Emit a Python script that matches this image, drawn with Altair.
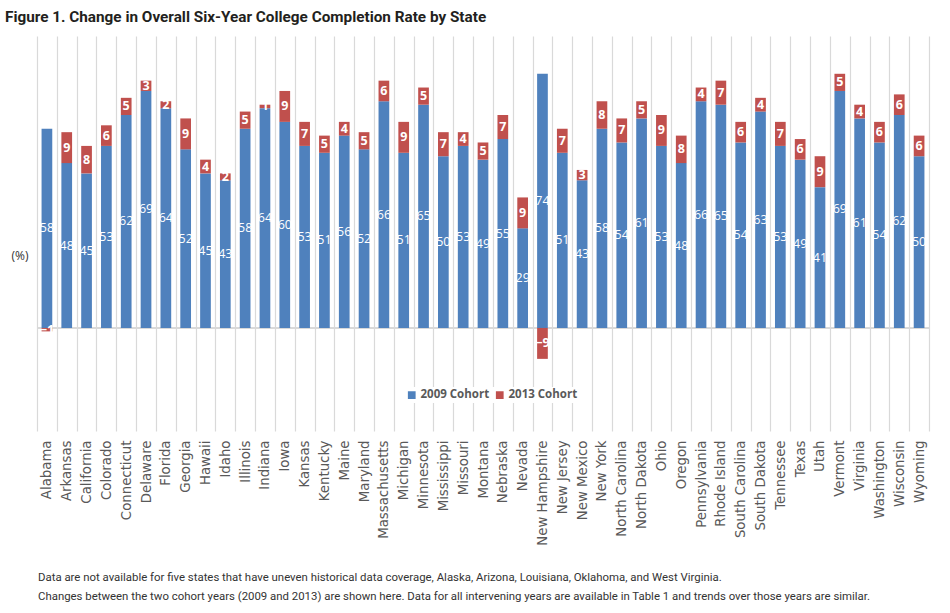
import altair as alt
import pandas as pd

states = ["Alabama", "Arkansas", "California", "Colorado", "Connecticut", "Delaware", "Florida",
          "Georgia", "Hawaii", "Idaho", "Illinois", "Indiana", "Iowa", "Kansas", "Kentucky", "Maine",
          "Maryland", "Massachusetts", "Michigan", "Minnesota", "Mississippi", "Missouri", "Montana",
          "Nebraska", "Nevada", "New Hampshire", "New Jersey", "New Mexico", "New York",
          "North Carolina", "North Dakota", "Ohio", "Oregon", "Pennsylvania", "Rhode Island",
          "South Carolina", "South Dakota", "Tennessee", "Texas", "Utah", "Vermont", "Virginia",
          "Washington", "Wisconsin", "Wyoming"]
cohort_2009 = [58, 48, 45, 53, 62, 69, 64, 52, 45, 43, 58, 64, 60, 53, 51, 56, 52, 66, 51, 65, 50, 53,
               49, 55, 29, 74, 51, 43, 58, 54, 61, 53, 48, 66, 65, 54, 63, 53, 49, 41, 69, 61, 54, 62, 50]
change_2013 = [-1, 9, 8, 6, 5, 3, 2, 9, 4, 2, 5, 1, 9, 7, 5, 4, 5, 6, 9, 5, 7, 4, 5, 7, 9, -9, 7, 3,
               8, 7, 5, 9, 8, 4, 7, 6, 4, 7, 6, 9, 5, 4, 6, 6, 6]
series_names = ["2009 Cohort", "2013 Cohort"]
series_colors = ["#4F81BD", "#C0504D"]

title_text = "Figure 1. Change in Overall Six-Year College Completion Rate by State"
note_line1 = "Data are not available for five states that have uneven historical data coverage, Alaska, Arizona, Louisiana, Oklahoma, and West Virginia."
note_line2 = "Changes between the two cohort years (2009 and 2013) are shown here. Data for all intervening years are available in Table 1 and trends over those years are similar."

rows = []
for s, a, b in zip(states, cohort_2009, change_2013):
    rows.append({"state": s, "series": series_names[0], "value": a, "ord": 0})
    rows.append({"state": s, "series": series_names[1], "value": b, "ord": 1})
df = pd.DataFrame(rows)

W, H = 892, 395
yscale = alt.Scale(domain=[-30, 85], nice=False, zero=True)

x_enc = alt.X(
    "state:N", sort=states, title=None,
    scale=alt.Scale(paddingInner=0, paddingOuter=0),
    axis=alt.Axis(labelAngle=-90, labelAlign="right", labelBaseline="middle",
                  labelFont="DejaVu Sans", labelFontSize=13.3, labelColor="#595959",
                  labelPadding=9, ticks=False, domain=False, grid=True,
                  gridColor="#D9D9D9", gridWidth=1.2, tickBand="extent"),
)

bars = alt.Chart(df).mark_bar(width=alt.RelativeBandSize(0.54)).encode(
    x=x_enc,
    y=alt.Y("value:Q", stack="zero", scale=yscale, axis=None),
    color=alt.Color("series:N",
                    scale=alt.Scale(domain=series_names, range=series_colors),
                    legend=alt.Legend(title=None, orient="none", legendX=367, legendY=351,
                                      direction="horizontal", symbolType="square", symbolSize=60,
                                      symbolStrokeWidth=0, symbolOpacity=1,
                                      labelFont="Open Sans", labelFontSize=11.5,
                                      labelFontWeight="bold", labelColor="#595959",
                                      fillColor="white", columnPadding=4, padding=2,
                                      labelOffset=3)),
    order=alt.Order("ord:Q"),
)

zero_line = alt.Chart(df).mark_rule(color="#D9D9D9", strokeWidth=1.5).encode(
    y=alt.YDatum(0, axis=None, scale=yscale),
)

stacked = alt.Chart(df).transform_stack(
    stack="value", groupby=["state"], as_=["y0", "y1"], sort=[alt.SortField("ord")]
).transform_calculate(mid="(datum.y0 + datum.y1) / 2")

lab_blue = stacked.transform_filter(alt.datum.ord == 0).mark_text(
    color="white", font="Open Sans", fontSize=12.5, baseline="middle", align="center"
).encode(x=alt.X("state:N", sort=states), y=alt.Y("mid:Q", scale=yscale, axis=None), text="value:Q")

lab_red = stacked.transform_filter(alt.datum.ord == 1).mark_text(
    color="white", font="Open Sans", fontSize=12.5, fontWeight="bold", baseline="middle", align="center"
).encode(x=alt.X("state:N", sort=states), y=alt.Y("mid:Q", scale=yscale, axis=None), text="value:Q")

title = alt.Chart(pd.DataFrame({"t": [title_text]})).mark_text(
    align="left", baseline="middle", font="Roboto", fontSize=15.3,
    fontWeight="bold", color="#231F20"
).encode(x=alt.value(-32), y=alt.value(-19), text="t:N")

pct = alt.Chart(pd.DataFrame({"t": ["(%)"]})).mark_text(
    align="center", baseline="middle", font="Open Sans", fontSize=12, color="#333333"
).encode(x=alt.value(-17), y=alt.value(220), text="t:N")

note1 = alt.Chart(pd.DataFrame({"t": [note_line1]})).mark_text(
    align="left", baseline="middle", font="Roboto", fontSize=11.4, color="#333333"
).encode(x=alt.value(1), y=alt.value(542), text="t:N")

note2 = alt.Chart(pd.DataFrame({"t": [note_line2]})).mark_text(
    align="left", baseline="middle", font="Roboto", fontSize=11.4, color="#333333"
).encode(x=alt.value(1), y=alt.value(561), text="t:N")

chart = alt.layer(zero_line, bars, lab_blue, lab_red, title, pct, note1, note2).properties(
    width=W, height=H,
    autosize=alt.AutoSizeParams(type="none"),
    padding={"left": 37, "top": 36, "right": 21, "bottom": 182},
    background="white",
).configure_view(stroke=None)

chart.save("out.html", embed_options={"renderer": "svg", "actions": False})
